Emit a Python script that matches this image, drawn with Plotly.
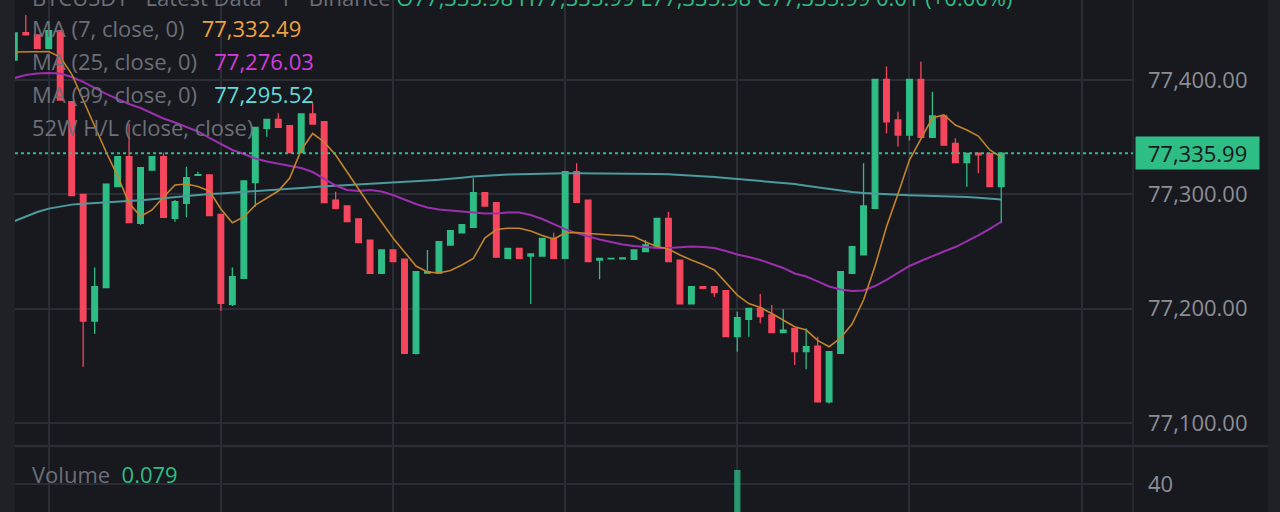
import plotly.graph_objects as go

# 1-minute candles (index 0 is the partly hidden left candle)
opens = [77417.5, 77441.4, 77439.4, 77427.7, 77443.1, 77381.0, 77300.0, 77189.2, 77218.4, 77306.7,
         77332.9, 77274.6, 77321.3, 77332.9, 77279.0, 77292.1, 77316.5, 77316.9, 77282.5, 77203.8,
         77226.5, 77310.2, 77357.8, 77365.6, 77360.0, 77336.4, 77370.3, 77363.5, 77295.0, 77289.8,
         77278.4, 77260.0, 77230.9, 77251.3, 77243.2, 77160.9, 77231.0, 77231.0, 77255.7, 77266.2,
         77271.2, 77301.4, 77292.7, 77244.0, 77252.8, 77246.0, 77246.0, 77261.5, 77244.0, 77319.8,
         77295.0, 77242.5, 77243.5, 77243.5, 77243.2, 77250.0, 77254.8, 77279.0, 77242.5, 77204.1,
         77219.3, 77219.3, 77215.7, 77175.5, 77190.6, 77200.3, 77194.5, 77179.0, 77182.8, 77162.4,
         77167.3, 77118.6, 77160.9, 77230.9, 77247.0, 77287.8, 77400.6, 77365.0, 77351.9, 77400.6,
         77349.9, 77368.5, 77344.6, 77327.7, 77336.0, 77335.9, 77306.7]
highs = [77441.1, 77456.9, 77439.4, 77443.1, 77443.1, 77381.0, 77300.0, 77236.1, 77308.8, 77332.9,
         77361.5, 77323.3, 77332.9, 77336.4, 77295.0, 77324.2, 77319.8, 77316.9, 77282.5, 77236.1,
         77311.7, 77358.6, 77365.6, 77370.9, 77360.0, 77370.3, 77380.2, 77363.5, 77302.3, 77289.8,
         77278.4, 77260.0, 77251.3, 77251.3, 77243.2, 77232.3, 77251.3, 77258.6, 77268.2, 77273.5,
         77314.0, 77301.4, 77292.7, 77252.8, 77252.8, 77247.8, 77261.5, 77266.4, 77319.8, 77327.1,
         77295.0, 77244.0, 77244.0, 77244.5, 77251.3, 77260.0, 77279.0, 77284.8, 77242.5, 77219.3,
         77219.3, 77219.3, 77215.7, 77197.4, 77200.3, 77212.8, 77203.2, 77199.4, 77182.8, 77182.8,
         77175.5, 77162.4, 77232.3, 77254.2, 77327.1, 77400.6, 77411.7, 77372.3, 77400.6, 77416.0,
         77389.8, 77368.5, 77349.0, 77335.9, 77336.0, 77335.9, 77335.99]
lows = [77417.5, 77439.4, 77427.7, 77427.7, 77382.5, 77298.8, 77149.3, 77177.8, 77218.4, 77306.7,
        77275.2, 77273.5, 77321.3, 77279.9, 77276.1, 77279.9, 77316.0, 77281.3, 77198.2, 77202.3,
        77226.5, 77289.2, 77350.4, 77358.6, 77336.4, 77336.4, 77361.5, 77292.7, 77287.8, 77276.1,
        77257.7, 77230.9, 77230.9, 77241.1, 77160.9, 77160.0, 77231.0, 77231.0, 77255.7, 77266.2,
        77271.2, 77289.8, 77245.0, 77244.0, 77244.0, 77204.1, 77246.0, 77244.0, 77244.0, 77293.0,
        77241.1, 77225.7, 77243.5, 77243.5, 77243.2, 77250.0, 77254.8, 77241.1, 77204.1, 77204.1,
        77217.8, 77210.5, 77175.5, 77162.4, 77175.5, 77187.2, 77179.0, 77179.0, 77150.7, 77147.0,
        77118.6, 77117.0, 77160.9, 77230.9, 77247.0, 77287.8, 77353.4, 77341.7, 77347.0, 77349.9,
        77349.9, 77343.1, 77327.7, 77306.7, 77318.4, 77306.7, 77274.6]
closes = [77441.1, 77439.4, 77427.7, 77443.1, 77382.5, 77298.8, 77189.2, 77219.3, 77308.8, 77332.9,
          77275.2, 77323.3, 77332.9, 77279.9, 77293.6, 77314.6, 77317.3, 77281.3, 77204.7, 77227.9,
          77311.7, 77358.6, 77365.6, 77358.6, 77336.4, 77370.3, 77361.5, 77292.7, 77287.8, 77276.1,
          77257.7, 77230.9, 77251.3, 77241.1, 77160.9, 77232.3, 77232.3, 77258.6, 77268.2, 77273.5,
          77301.4, 77289.8, 77245.0, 77252.8, 77244.0, 77247.8, 77261.5, 77244.0, 77319.8, 77293.0,
          77241.1, 77244.0, 77244.0, 77244.5, 77251.3, 77255.7, 77279.0, 77241.1, 77204.1, 77219.3,
          77217.8, 77214.0, 77175.5, 77192.1, 77200.3, 77193.0, 77179.0, 77181.3, 77162.4, 77166.8,
          77118.6, 77162.4, 77232.3, 77254.2, 77289.8, 77400.6, 77363.5, 77351.9, 77400.6, 77349.9,
          77368.5, 77343.1, 77327.7, 77335.9, 77334.5, 77306.7, 77335.99]

ma7 = [77424.5, 77424.5, 77424.5, 77424.9, 77420.1, 77405.2, 77382.5, 77359.8, 77337.0, 77316.0,
       77292.4, 77280.6, 77286.3, 77297.7, 77308.2, 77309.0, 77306.8, 77302.9, 77287.2, 77275.2,
       77280.2, 77290.6, 77296.5, 77302.9, 77314.3, 77338.8, 77353.2, 77345.8, 77334.4, 77319.5,
       77303.8, 77289.8, 77275.8, 77261.8, 77249.6, 77237.3, 77232.1, 77231.2, 77233.4, 77238.2,
       77244.0, 77261.8, 77269.2, 77270.3, 77270.3, 77267.9, 77264.0, 77260.9, 77266.2, 77266.6,
       77265.7, 77264.9, 77264.4, 77264.0, 77263.1, 77258.3, 77254.4, 77252.2, 77247.0, 77242.6,
       77238.6, 77233.8, 77223.3, 77211.9, 77204.5, 77201.0, 77195.8, 77190.1, 77184.2, 77181.3,
       77172.2, 77166.7, 77174.3, 77186.6, 77207.6, 77237.3, 77271.7, 77300.3, 77330.0, 77348.4,
       77366.8, 77369.4, 77360.6, 77356.3, 77351.0, 77338.8, 77332.49]
ma25 = [77401.7, 77404.4, 77405.7, 77406.1, 77405.7, 77402.6, 77398.3, 77393.0, 77387.8, 77383.4,
        77379.0, 77375.5, 77371.1, 77366.3, 77362.8, 77358.9, 77355.0, 77349.3, 77344.0, 77338.8,
        77335.3, 77331.3, 77328.7, 77327.0, 77325.2, 77323.0, 77319.5, 77313.4, 77307.7, 77303.8,
        77302.9, 77303.8, 77302.5, 77299.4, 77295.5, 77291.5, 77288.5, 77286.7, 77285.9, 77285.0,
        77283.7, 77283.2, 77283.2, 77284.1, 77284.1, 77281.9, 77278.4, 77274.0, 77269.6, 77266.1,
        77263.1, 77260.5, 77258.3, 77256.1, 77254.8, 77253.9, 77253.1, 77253.1, 77253.9, 77254.4,
        77253.9, 77253.1, 77250.4, 77247.4, 77245.2, 77242.6, 77239.1, 77235.6, 77230.8, 77228.1,
        77223.8, 77219.4, 77216.8, 77215.4, 77215.9, 77219.8, 77225.1, 77231.2, 77237.3, 77241.7,
        77246.1, 77250.0, 77253.9, 77258.7, 77264.0, 77269.7, 77276.03]
ma99 = [77276.5, 77280.5, 77284.5, 77287.5, 77289.5, 77291.0, 77291.8, 77292.3, 77292.7, 77293.3,
        77294.0, 77294.8, 77295.8, 77296.8, 77297.7, 77298.5, 77299.3, 77300.2, 77300.8, 77301.4,
        77302.0, 77302.5, 77303.3, 77304.0, 77304.8, 77305.6, 77306.5, 77307.0, 77307.5, 77308.0,
        77308.5, 77309.0, 77309.5, 77310.2, 77310.9, 77311.5, 77312.1, 77312.7, 77313.3, 77314.5,
        77315.5, 77316.3, 77317.0, 77317.3, 77317.6, 77317.9, 77318.1, 77318.3, 77318.4, 77318.4,
        77318.4, 77318.3, 77318.2, 77318.1, 77318.0, 77317.9, 77317.8, 77317.5, 77317.0, 77316.5,
        77315.9, 77315.2, 77314.3, 77313.5, 77312.6, 77311.7, 77310.8, 77309.9, 77309.0, 77307.5,
        77306.0, 77304.4, 77303.1, 77302.0, 77301.2, 77300.5, 77300.0, 77299.6, 77299.3, 77299.1,
        77298.8, 77298.5, 77298.2, 77297.7, 77297.0, 77296.3, 77295.52]

# only the volume bars that show above the cut-off bottom edge
vol_idx = [63, 86]
vol_val = [50, 0.079]

price_ticks = [77100, 77200, 77300, 77400]
last_price = 77335.99

UP = "#2ebd85"
DOWN = "#f6465d"
BG = "#18191e"
GRID = "#2a2d36"
TXT = "#6c6f79"
FONT = "Open Sans"

x = list(range(len(closes)))

# helpers: screen pixels -> paper coords (plot area is x 15..1133, full height)
def px(v):
    return (v - 15) / 1118

def py(v):
    return (512 - v) / 512

fig = go.Figure()
fig.add_trace(go.Candlestick(
    x=x, open=opens, high=highs, low=lows, close=closes,
    increasing=dict(line=dict(color=UP, width=1.3), fillcolor=UP),
    decreasing=dict(line=dict(color=DOWN, width=1.3), fillcolor=DOWN),
    xaxis="x", yaxis="y",
))
fig.add_trace(go.Scatter(x=x, y=ma99, mode="lines", line=dict(color="#4b9a9e", width=2)))
fig.add_trace(go.Scatter(x=x, y=ma25, mode="lines", line=dict(color="#9b2fae", width=2)))
fig.add_trace(go.Scatter(x=x, y=ma7, mode="lines", line=dict(color="#c4842c", width=1.6)))
fig.add_trace(go.Bar(
    x=vol_idx, y=vol_val, width=0.55, marker=dict(color=UP, line=dict(width=0)),
    opacity=0.75, xaxis="x2", yaxis="y2",
))

fig.update_layout(
    width=1280, height=512,
    margin=dict(l=15, r=147, t=0, b=0),
    paper_bgcolor="#202126",
    plot_bgcolor=BG,
    showlegend=False,
    font=dict(family=FONT, color=TXT),
    xaxis=dict(
        domain=[0, 1], range=[0.06, 97.48], anchor="y",
        tick0=3, dtick=15, showticklabels=False, ticks="",
        gridcolor=GRID, gridwidth=1.5, zeroline=False,
        rangeslider=dict(visible=False),
    ),
    xaxis2=dict(
        domain=[0, 1], matches="x", anchor="y2",
        tick0=3, dtick=15, showticklabels=False, ticks="",
        gridcolor=GRID, gridwidth=1.5, zeroline=False,
    ),
    yaxis=dict(
        domain=[py(445), 1], range=[77080.75, 77469.97], side="right",
        tickvals=price_ticks, tickformat=",.2f", ticks="",
        ticklabelstandoff=14, tickfont=dict(size=22, color="#8b8e97"),
        gridcolor=GRID, gridwidth=2, zeroline=False,
    ),
    yaxis2=dict(
        domain=[0, py(447)], range=[20, 66.4], side="right",
        tickvals=[40], ticks="", ticklabelstandoff=14,
        tickfont=dict(size=22, color="#8b8e97"),
        gridcolor=GRID, gridwidth=2, zeroline=False,
    ),
)

fig.add_shape(type="rect", xref="paper", yref="paper", x0=1, x1=px(1268), y0=0, y1=1,
              fillcolor=BG, line=dict(width=0), layer="below")
fig.add_shape(type="line", xref="paper", yref="paper", x0=1, x1=1, y0=0, y1=1,
              line=dict(color=GRID, width=1.5))
fig.add_shape(type="line", xref="paper", yref="paper", x0=0, x1=px(1268), y0=py(446), y1=py(446),
              line=dict(color=GRID, width=2.5))
fig.add_shape(type="line", xref="paper", yref="y", x0=0, x1=1, y0=last_price, y1=last_price,
              line=dict(color=UP, width=2, dash="dot"))

fig.add_annotation(
    xref="paper", yref="y", x=px(1135), y=last_price, xanchor="left", yanchor="middle",
    text="{:,.2f}".format(last_price), showarrow=False, width=123, height=32,
    bgcolor=UP, borderpad=0, font=dict(size=22, color="#15171b"),
)

sp = "&nbsp;"
legend = [
    (-3, "BTCUSDT · Latest Data" + sp + "·" + sp + "1" + sp + "·" + sp + "Binance" + sp
     + "<span style='color:#2ebd85'>O77,335.98" + sp + "H77,335.99" + sp + "L77,335.98" + sp
     + "C77,335.99" + sp + "0.01 (+0.00%)</span>"),
    (28, "MA (7, close, 0)" + sp * 3 + "<span style='color:#eea23c'>77,332.49</span>"),
    (61, "MA (25, close, 0)" + sp * 3 + "<span style='color:#d23cdc'>77,276.03</span>"),
    (94, "MA (99, close, 0)" + sp * 3 + "<span style='color:#62dcdc'>77,295.52</span>"),
    (127, "52W H/L (close, close)"),
    (474, "Volume" + sp * 2 + "<span style='color:#2ebd85'>0.079</span>"),
]
for ypix, txt in legend:
    fig.add_annotation(
        xref="paper", yref="paper", x=px(30), y=py(ypix), xanchor="left", yanchor="middle",
        text=txt, showarrow=False, font=dict(size=22, color=TXT),
    )

# the page body has an 8px default margin; drop it so the figure sits at 0,0
fig.write_html("out.html", config={"displayModeBar": False},
               post_script="document.body.style.margin='0';")
